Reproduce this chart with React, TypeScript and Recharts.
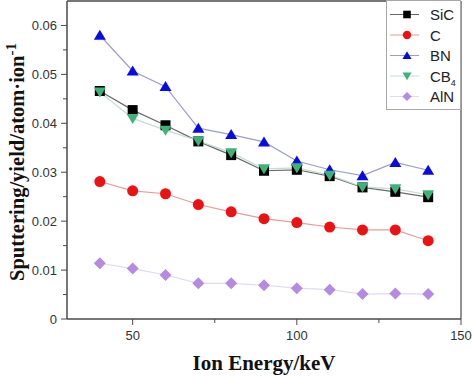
import React from 'react';
import {
  LineChart,
  Line,
  XAxis,
  YAxis,
  Label,
  ReferenceLine
} from 'recharts';

const energies = [40, 50, 60, 70, 80, 90, 100, 110, 120, 130, 140];
const sic = [0.0466, 0.0427, 0.0396, 0.0363, 0.0335, 0.0303, 0.0305, 0.0292, 0.0269, 0.026, 0.0249];
const carbon = [0.0281, 0.0262, 0.0256, 0.0234, 0.0219, 0.0205, 0.0197, 0.0188, 0.0182, 0.0182, 0.016];
const bn = [0.058, 0.0507, 0.0475, 0.039, 0.0377, 0.0362, 0.0323, 0.0305, 0.0293, 0.032, 0.0304];
const cb4 = [0.0464, 0.041, 0.0386, 0.0364, 0.034, 0.0307, 0.0309, 0.0294, 0.027, 0.0266, 0.0254];
const aln = [0.0114, 0.0103, 0.009, 0.0073, 0.0073, 0.0069, 0.0063, 0.006, 0.0051, 0.0052, 0.0051];

const xTicks = [50, 75, 100, 125, 150];
const xLabels = [50, 100, 150];
const yTicks = [0, 0.005, 0.01, 0.015, 0.02, 0.025, 0.03, 0.035, 0.04, 0.045, 0.05, 0.055, 0.06];
const yLabels = [0, 0.01, 0.02, 0.03, 0.04, 0.05, 0.06];

const series = [
  { key: 'SiC', values: sic, shape: 'square', fill: '#000000', line: '#6a6a6a' },
  { key: 'C', values: carbon, shape: 'circle', fill: '#ee1111', line: '#e59c9c' },
  { key: 'BN', values: bn, shape: 'triangle', fill: '#0a0ae6', line: '#9c9dcb' },
  { key: 'CB4', values: cb4, shape: 'down', fill: '#3db37a', line: '#c6ddd0' },
  { key: 'AlN', values: aln, shape: 'diamond', fill: '#b48ae4', line: '#e2d9ef' }
];

const data = energies.map((e, i) => {
  const row: any = { energy: e };
  series.forEach(s => { row[s.key] = s.values[i]; });
  return row;
});

const axisColor = '#4a4a4a';
const sans = '"Liberation Sans", Arial, sans-serif';
const serif = '"Liberation Serif", "Times New Roman", serif';

const Marker = ({ shape, cx, cy, fill, r }: any) => {
  if (cx == null || cy == null) return null;
  if (shape === 'square') return <rect x={cx - r} y={cy - r} width={r * 2} height={r * 2} fill={fill} />;
  if (shape === 'circle') return <circle cx={cx} cy={cy} r={r * 1.1} fill={fill} />;
  if (shape === 'triangle')
    return <polygon points={`${cx},${cy - r * 1.1} ${cx + r * 1.2},${cy + r * 0.9} ${cx - r * 1.2},${cy + r * 0.9}`} fill={fill} />;
  if (shape === 'down')
    return <polygon points={`${cx},${cy + r * 1.1} ${cx + r * 1.2},${cy - r * 0.9} ${cx - r * 1.2},${cy - r * 0.9}`} fill={fill} />;
  return <polygon points={`${cx},${cy - r * 1.2} ${cx + r * 1.2},${cy} ${cx},${cy + r * 1.2} ${cx - r * 1.2},${cy}`} fill={fill} />;
};

const XTick = ({ x, y, payload }: any) => {
  const major = xLabels.includes(payload.value);
  return (
    <g>
      <line x1={x} x2={x} y1={y} y2={y + (major ? 6 : 4)} stroke={axisColor} />
      {major && (
        <text x={x} y={y + 21} textAnchor="middle" fontSize={13} fill="#333" fontFamily={sans}>
          {payload.value}
        </text>
      )}
    </g>
  );
};

const YTick = ({ x, y, payload }: any) => {
  const major = yLabels.some(v => Math.abs(v - payload.value) < 1e-9);
  return (
    <g>
      <line x1={x} x2={x - (major ? 6 : 4)} y1={y} y2={y} stroke={axisColor} />
      {major && (
        <text x={x - 10} y={y + 4.5} textAnchor="end" fontSize={13} fill="#333" fontFamily={sans}>
          {payload.value === 0 ? '0' : payload.value.toFixed(2)}
        </text>
      )}
    </g>
  );
};

const LegendBox = () => (
  <div
    style={{
      position: 'absolute',
      left: 386,
      top: 0,
      border: '1px solid #a8a8a8',
      background: '#fff',
      width: 75,
      height: 110,
      boxSizing: 'border-box'
    }}
  >
    <svg width={73} height={108}>
      {series.map((s, i) => {
        const cy = 13.5 + i * 20.5;
        return (
          <g key={s.key}>
            <line x1={3} x2={32} y1={cy} y2={cy} stroke={s.line} />
            <Marker shape={s.shape} cx={20} cy={cy} fill={s.fill} r={3.8} />
            <text x={43} y={cy + 5.5} fontSize={15} fill="#222" fontFamily={sans}>
              {s.key === 'CB4' ? (
                <>
                  CB<tspan fontSize={9} dy={4}>4</tspan>
                </>
              ) : s.key}
            </text>
          </g>
        );
      })}
    </svg>
  </div>
);

const App: React.FC = () => {
  return (
    <div style={{ position: 'fixed', left: 0, top: 0, width: 474, height: 376, background: '#fff' }}>
      <LineChart width={474} height={376} data={data} margin={{ top: 1, right: 13, left: 0, bottom: 0 }}>
        <XAxis
          dataKey="energy"
          type="number"
          domain={[30, 150]}
          ticks={xTicks}
          interval={0}
          tickSize={0}
          tickMargin={0}
          tickLine={false}
          tick={<XTick />}
          axisLine={{ stroke: axisColor, strokeWidth: 1.5 }}
          height={57}
        >
          <Label
            content={() => (
              <text x={264} y={370} textAnchor="middle" fontSize={21} fontWeight="bold" fill="#111" fontFamily={serif}>
                Ion Energy/keV
              </text>
            )}
          />
        </XAxis>
        <YAxis
          type="number"
          domain={[0, 0.065]}
          ticks={yTicks}
          interval={0}
          tickSize={0}
          tickMargin={0}
          tickLine={false}
          tick={<YTick />}
          axisLine={{ stroke: axisColor, strokeWidth: 1.5 }}
          width={67}
        >
          <Label
            content={() => (
              <text
                transform="translate(24,162) rotate(-90)"
                textAnchor="middle"
                fontSize={20.5}
                fontWeight="bold"
                fill="#111"
                fontFamily={serif}
              >
                Sputtering/yield/atom·ion<tspan fontSize={15} dy={-8}>-1</tspan>
              </text>
            )}
          />
        </YAxis>
        <ReferenceLine y={0.065} stroke="#777" strokeWidth={2} />
        <ReferenceLine x={150} stroke={axisColor} strokeWidth={1.2} />
        {series.map(s => (
          <Line
            key={s.key}
            dataKey={s.key}
            stroke={s.line}
            strokeWidth={1.2}
            isAnimationActive={false}
            dot={(p: any) => <Marker key={`${s.key}-${p.index}`} shape={s.shape} cx={p.cx} cy={p.cy} fill={s.fill} r={5} />}
            activeDot={false}
          />
        ))}
      </LineChart>
      <LegendBox />
    </div>
  );
};

export default App;
